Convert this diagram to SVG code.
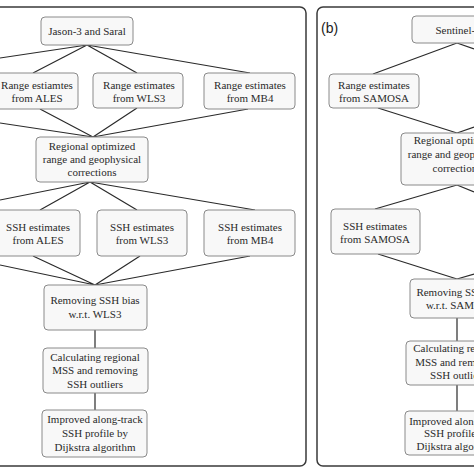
<svg xmlns="http://www.w3.org/2000/svg" width="474" height="474" viewBox="0 0 474 474">
<style>
.panel{fill:#ffffff;stroke:#3a3a3a;stroke-width:1.5}
.box{fill:#f8f8f8;stroke:#8a8a8a;stroke-width:1}
.t{font-family:"Liberation Serif","Times New Roman",serif;font-size:11px;fill:#2a2a2a;text-anchor:middle}
.lbl{font-family:"Liberation Sans",Arial,sans-serif;font-size:14px;fill:#222}
.c{stroke:#2a2a2a;stroke-width:1.2;fill:none}
</style>
<rect width="474" height="474" fill="#ffffff"/>
<g id="panel-a"><rect class="panel" x="-10" y="7" width="316" height="459" rx="6"/></g>
<g id="panel-b"><rect class="panel" x="317" y="7" width="170" height="459" rx="6"/><text class="lbl" x="321" y="33">(b)</text></g>
<g id="connectors">
<path class="c" d="M87 45 L0 58 M87 45 L33 73 M87 45 L137 73 M87 45 L250 73"/>
<path class="c" d="M40 109 L93 137 M137 108 L93 137 M248 109 L93 137 M0 123 L93 137"/>
<path class="c" d="M90 182 L0 200 M90 182 L40 210 M90 182 L137 210 M90 182 L255 210"/>
<path class="c" d="M33 256 L95 285 M140 256 L95 285 M250 256 L95 285 M0 265 L95 285"/>
<path class="c" d="M95 330 L95 348 M95 393 L95 410"/>
<path class="c" d="M457 43 L373 74 M457 43 L474 49"/>
<path class="c" d="M378 108 L457 133 M474 127 L457 133"/>
<path class="c" d="M457 185 L375 209 M457 185 L474 192"/>
<path class="c" d="M378 254 L457 279 M474 274 L457 279"/>
<path class="c" d="M457 318 L457 341 M457 385 L457 411"/>
</g>
<g id="n-jason"><rect class="box" x="41" y="17" width="92" height="28" rx="4"/><text class="t" x="87" y="35">Jason-3 and Saral</text></g>
<g id="n-range-ales"><rect class="box" x="-4" y="73" width="82" height="36" rx="4"/><text class="t" x="37" y="89">Range estiamtes</text><text class="t" x="37" y="102">from ALES</text></g>
<g id="n-range-wls3"><rect class="box" x="93" y="73" width="90" height="35" rx="4"/><text class="t" x="139" y="89">Range estimates</text><text class="t" x="139" y="102">from WLS3</text></g>
<g id="n-range-mb4"><rect class="box" x="204" y="73" width="91" height="36" rx="4"/><text class="t" x="250" y="89">Range estimates</text><text class="t" x="250" y="102">from MB4</text></g>
<g id="n-regional-a"><rect class="box" x="36" y="137" width="112" height="45" rx="4"/><text class="t" x="92" y="149.5">Regional optimized</text><text class="t" x="92" y="162.5">range and geophysical</text><text class="t" x="92" y="176">corrections</text></g>
<g id="n-ssh-ales"><rect class="box" x="-4" y="210" width="84" height="46" rx="4"/><text class="t" x="38" y="231">SSH estimates</text><text class="t" x="38" y="244">from ALES</text></g>
<g id="n-ssh-wls3"><rect class="box" x="97" y="210" width="90" height="46" rx="4"/><text class="t" x="142" y="231">SSH estimates</text><text class="t" x="142" y="244">from WLS3</text></g>
<g id="n-ssh-mb4"><rect class="box" x="204" y="210" width="91" height="46" rx="4"/><text class="t" x="250" y="231">SSH estimates</text><text class="t" x="250" y="244">from MB4</text></g>
<g id="n-removing-a"><rect class="box" x="44" y="285" width="103" height="45" rx="4"/><text class="t" x="95" y="304">Removing SSH bias</text><text class="t" x="95" y="318">w.r.t. WLS3</text></g>
<g id="n-calc-a"><rect class="box" x="43" y="348" width="105" height="45" rx="4"/><text class="t" x="95" y="360.5">Calculating regional</text><text class="t" x="95" y="374">MSS and removing</text><text class="t" x="95" y="387.5">SSH outliers</text></g>
<g id="n-improved-a"><rect class="box" x="42" y="410" width="105" height="47" rx="4"/><text class="t" x="95" y="423">Improved along-track</text><text class="t" x="95" y="437">SSH profile by</text><text class="t" x="95" y="450.5">Dijkstra algorithm</text></g>
<g id="n-sentinel"><rect class="box" x="412" y="16" width="90" height="27" rx="4"/><text class="t" x="458" y="34">Sentinel-3</text></g>
<g id="n-range-samosa"><rect class="box" x="329" y="74" width="90" height="34" rx="4"/><text class="t" x="374" y="89">Range estimates</text><text class="t" x="374" y="102">from SAMOSA</text></g>
<g id="n-regional-b"><rect class="box" x="401" y="133" width="112" height="52" rx="4"/><text class="t" x="457" y="144">Regional optimized</text><text class="t" x="457" y="157.5">range and geophysical</text><text class="t" x="457" y="171.5">corrections</text></g>
<g id="n-ssh-samosa"><rect class="box" x="331" y="209" width="89" height="45" rx="4"/><text class="t" x="375" y="230">SSH estimates</text><text class="t" x="375" y="242.5">from SAMOSA</text></g>
<g id="n-removing-b"><rect class="box" x="410" y="279" width="103" height="39" rx="4"/><text class="t" x="461" y="295.5">Removing SSH bias</text><text class="t" x="461" y="309">w.r.t. SAMOSA</text></g>
<g id="n-calc-b"><rect class="box" x="406" y="341" width="105" height="44" rx="4"/><text class="t" x="458" y="352">Calculating regional</text><text class="t" x="458" y="366">MSS and removing</text><text class="t" x="458" y="379">SSH outliers</text></g>
<g id="n-improved-b"><rect class="box" x="405" y="411" width="105" height="44" rx="4"/><text class="t" x="457" y="424.5">Improved along-track</text><text class="t" x="457" y="437">SSH profile by</text><text class="t" x="457" y="450">Dijkstra algorithm</text></g>
</svg>
